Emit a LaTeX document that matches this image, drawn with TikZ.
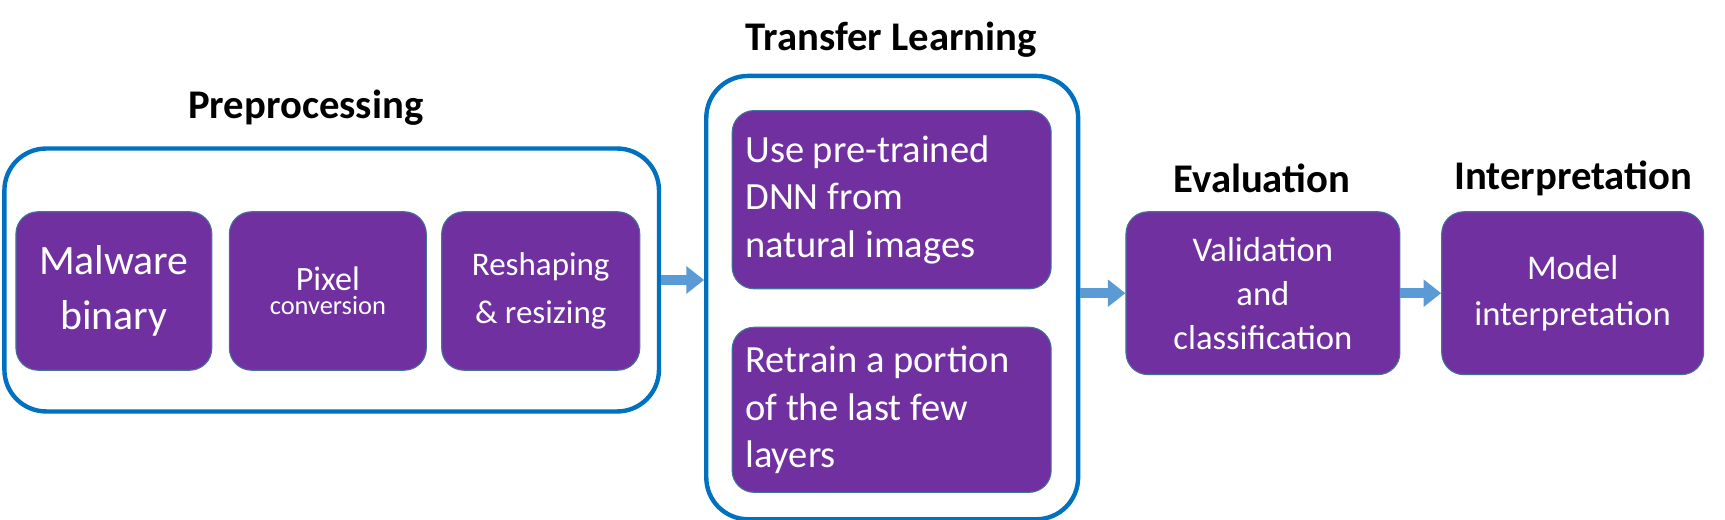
\documentclass[tikz,border=0pt]{standalone}
\usepackage{fontspec}
\setmainfont{Carlito}
\usetikzlibrary{arrows.meta}
\definecolor{stepfill}{HTML}{7030A0}
\definecolor{stepline}{HTML}{41719C}
\definecolor{groupline}{HTML}{0070C0}
\definecolor{flow}{HTML}{5B9BD5}
\begin{document}
\begin{tikzpicture}[x=1pt,y=-1pt,
  stage/.style={draw=stepline, line width=1pt, fill=stepfill, rounded corners=20pt,
    text=white, align=center, inner sep=0pt, anchor=north west},
  group/.style={draw=groupline, line width=4pt, rounded corners=38pt, inner sep=0pt, anchor=north west},
  title/.style={font=\bfseries\fontsize{37}{40}\selectfont},
  flowarrow/.style={draw=flow, line width=9pt, -{Triangle[length=16pt,width=24pt]}}]
\useasboundingbox (0,0) rectangle (1568,472);
% groups
\node[group, minimum width=595pt, minimum height=239pt] (pre) at (2,133) {};
\node[group, minimum width=338pt, minimum height=403pt] (tl) at (640,67) {};
\node[title] (tpre) at (278,98) {Preprocessing};
\node[title] (ttl) at (810,36) {Transfer Learning};
\node[title] (teval) at (1147,162) {Evaluation};
\node[title] (tint) at (1430,162) {Interpretation};
% preprocessing steps
\node[stage, minimum width=178pt, minimum height=144pt, font=\fontsize{38}{50}\selectfont] (mal) at (14,192) {Malware\\binary};
\node[stage, minimum width=179pt, minimum height=144pt] (pix) at (208,192)
  {{\fontsize{31}{36}\selectfont Pixel}\\[4pt]{\fontsize{24}{28}\selectfont conversion}};
\node[stage, minimum width=180pt, minimum height=144pt, font=\fontsize{30}{44}\selectfont] (res) at (401,192) {Reshaping\\\& resizing};
% transfer learning steps
\node[stage, minimum width=290pt, minimum height=162pt, text width=266pt, align=flush left,
  font=\fontsize{35}{43}\selectfont] (use) at (665,100) {Use pre-trained\\DNN from\\natural images};
\node[stage, minimum width=290pt, minimum height=150pt, text width=266pt, align=flush left,
  font=\fontsize{35}{43}\selectfont] (ret) at (665,297) {Retrain a portion\\of the last few\\layers};
% evaluation and interpretation
\node[stage, minimum width=249pt, minimum height=148pt, font=\fontsize{31.5}{40}\selectfont] (eval) at (1023,192) {Validation\\and\\classification};
\node[stage, minimum width=238pt, minimum height=148pt, font=\fontsize{31.5}{42}\selectfont] (int) at (1310,192) {Model\\interpretation};
% flow
\draw[flowarrow] (pre.east) -- (tl.west |- pre.east);
\draw[flowarrow] (tl.east |- eval.west) -- (eval.west);
\draw[flowarrow] (eval.east) -- (int.west);
\end{tikzpicture}
\end{document}
